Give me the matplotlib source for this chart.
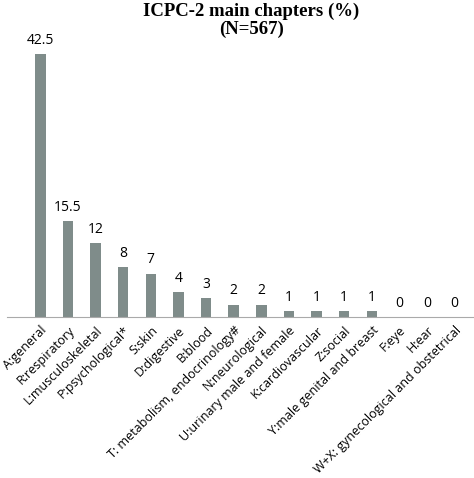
import matplotlib
matplotlib.use('Agg')
import matplotlib.pyplot as plt

categories = ["A:general", "R:respiratory", "L:musculoskeletal", "P:psychological*",
              "S:skin", "D:digestive", "B:blood", "T: metabolism, endocrinology#",
              "N:neurological", "U:urinary male and female", "K:cardiovascular",
              "Z:social", "Y:male genital and breast", "F:eye", "H:ear",
              "W+X: gynecological and obstetrical"]
values = [42.5, 15.5, 12, 8, 7, 4, 3, 2, 2, 1, 1, 1, 1, 0, 0, 0]
value_labels = ["42.5", "15.5", "12", "8", "7", "4", "3", "2", "2", "1", "1", "1", "1", "0", "0", "0"]

fig = plt.figure(figsize=(4.74, 4.78), dpi=100)
ax = fig.add_axes([0.015, 0.337, 0.985, 0.621])
x = list(range(len(values)))
ax.bar(x, values, width=0.38, color='#7f8c8a')
for xi, v, lab in zip(x, values, value_labels):
    ax.text(xi, v + 1.0, lab, ha='center', va='bottom', fontsize=10,
            family='Open Sans', color='black')
ax.set_xlim(-1.2, 15.7)
ax.set_ylim(0, 48)
ax.set_xticks(x)
ax.set_xticklabels(categories, rotation=45, ha='right', rotation_mode='anchor',
                   fontsize=9, family='Open Sans')
ax.tick_params(axis='x', length=0, pad=5)
ax.set_yticks([])
for s in ['top', 'right', 'left']:
    ax.spines[s].set_visible(False)
ax.spines['bottom'].set_color('#aaaaaa')
fig.text(0.53, 0.995, "ICPC-2 main chapters (%)\n(N=567)", ha='center', va='top',
         fontsize=13.5, fontweight='bold', family='Liberation Serif', linespacing=1.05)
fig.savefig('out.png', dpi=100)
